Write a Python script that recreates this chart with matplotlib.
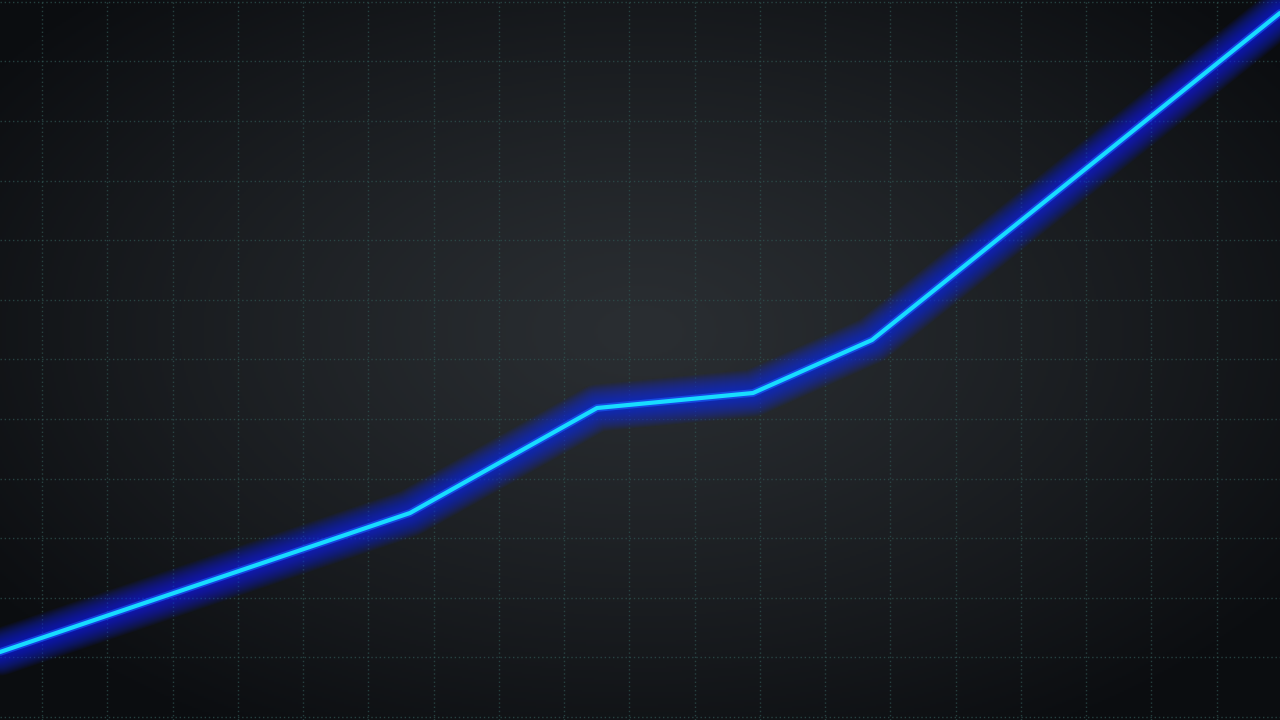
import numpy as np
import matplotlib
matplotlib.use("Agg")
import matplotlib.pyplot as plt

# line data
x_vals = [0, 41.0, 59.7, 75.3, 87.2, 128.0]
y_vals = [6.5, 20.4, 30.9, 32.4, 37.7, 70.4]

# grid positions
x_grid = 4.2 + 6.525 * np.arange(20)
y_grid = 5.96 * np.arange(13)

fig = plt.figure(figsize=(12.8, 7.2), dpi=100)
ax = fig.add_axes([0, 0, 1, 1])
ax.set_xlim(0, 128)
ax.set_ylim(-0.3, 71.7)

# radial background, lighter in the middle
gx, gy = np.meshgrid(np.linspace(-1, 1, 640), np.linspace(-1, 1, 360))
r = np.sqrt((gx / 1.0) ** 2 + ((gy + 0.08) / 1.05) ** 2)
t = np.clip(r / 1.25, 0, 1) ** 1.2
c_in = np.array([0x2a, 0x2e, 0x32]) / 255
c_out = np.array([0x0b, 0x0d, 0x10]) / 255
bg = c_in[None, None, :] * (1 - t[..., None]) + c_out[None, None, :] * t[..., None]
ax.imshow(bg, extent=(0, 128, -0.3, 71.7), aspect="auto", zorder=0)

for xv in x_grid:
    ax.axvline(xv, color="#2f5250", lw=1.0, ls=(0, (1, 2)), alpha=0.75, zorder=1)
for yv in y_grid:
    ax.axhline(yv, color="#2f5250", lw=1.0, ls=(0, (1, 2)), alpha=0.75, zorder=1)

# soft glow
for w in np.linspace(34, 4, 22):
    ax.plot(x_vals, y_vals, color="#1028ff", lw=w, alpha=0.05,
            solid_capstyle="round", solid_joinstyle="round", zorder=2)
ax.plot(x_vals, y_vals, color="#1a60ff", lw=5.5, alpha=0.6,
        solid_capstyle="round", solid_joinstyle="round", zorder=3)
ax.plot(x_vals, y_vals, color="#18dcff", lw=3.0,
        solid_capstyle="round", solid_joinstyle="round", zorder=4)

ax.axis("off")
fig.savefig("out.png", dpi=100, facecolor="#0d0f12")
